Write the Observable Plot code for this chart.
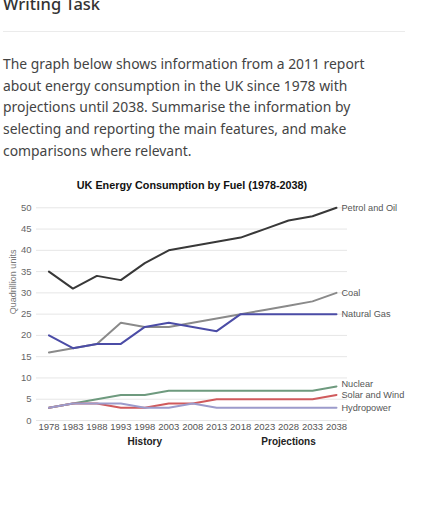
<!DOCTYPE html>
<html>
<head>
<meta charset="utf-8">
<script src="https://cdn.jsdelivr.net/npm/d3@7"></script>
<script src="https://cdn.jsdelivr.net/npm/@observablehq/plot@0.6"></script>
<style>
  html, body { margin: 0; padding: 0; background: #fff; width: 432px; height: 512px; overflow: hidden; }
  #heading { position: absolute; left: 3px; top: -8px; font: 500 16.5px "Noto Sans", sans-serif; color: #333; margin: 0; }
  #rule { position: absolute; left: 3px; top: 31px; width: 402px; height: 0; border-top: 1px solid #ebebeb; }
  #prompt { position: absolute; left: 3px; top: 53px; font: 13.9px "Noto Sans", sans-serif; line-height: 21.7px; color: #444; white-space: nowrap; margin: 0; }
  #title { position: absolute; left: 0; width: 384px; top: 179px; text-align: center; font: bold 10.8px "Liberation Sans", Arial, sans-serif; color: #111; }
  #chart { position: absolute; left: 0; top: 195px; }
</style>
</head>
<body>
<h2 id="heading">Writing Task</h2>
<div id="rule"></div>
<p id="prompt">The graph below shows information from a 2011 report<br>about energy consumption in the UK since 1978 with<br>projections until 2038. Summarise the information by<br>selecting and reporting the main features, and make<br>comparisons where relevant.</p>
<div id="title">UK Energy Consumption by Fuel (1978-2038)</div>
<div id="chart"></div>
<script>
const years = [1978, 1983, 1988, 1993, 1998, 2003, 2008, 2013, 2018, 2023, 2028, 2033, 2038];
const petrolOil    = [35, 31, 34, 33, 37, 40, 41, 42, 43, 45, 47, 48, 50];
const coal         = [16, 17, 18, 23, 22, 22, 23, 24, 25, 26, 27, 28, 30];
const naturalGas   = [20, 17, 18, 18, 22, 23, 22, 21, 25, 25, 25, 25, 25];
const nuclear      = [3, 4, 5, 6, 6, 7, 7, 7, 7, 7, 7, 7, 8];
const solarWind    = [3, 4, 4, 3, 3, 4, 4, 5, 5, 5, 5, 5, 6];
const hydropower   = [3, 4, 4, 4, 3, 3, 4, 3, 3, 3, 3, 3, 3];
const seriesNames  = ["Petrol and Oil", "Coal", "Natural Gas", "Nuclear", "Solar and Wind", "Hydropower"];
const seriesValues = [petrolOil, coal, naturalGas, nuclear, solarWind, hydropower];
const seriesColors = ["#383838", "#8a8a8a", "#4b4ca6", "#6e9a7e", "#d05a5c", "#9c9bcb"];
const labelShift   = [0, 0, 0, -2.5, 0, 0];
const yTicks = [0, 5, 10, 15, 20, 25, 30, 35, 40, 45, 50];
const periods = [
  {name: "History", start: 1978, end: 2018},
  {name: "Projections", start: 2018, end: 2038}
];

const rows = seriesNames.flatMap((name, i) =>
  years.map((year, j) => ({fuel: name, year, value: seriesValues[i][j]})));
const ends = seriesNames.map((name, i) => ({fuel: name, year: years[years.length - 1], value: seriesValues[i][years.length - 1], shift: labelShift[i]}));
const periodRows = periods.map(p => ({name: p.name, mid: (p.start + p.end) / 2}));

const chart = Plot.plot({
  width: 432,
  height: 260,
  marginLeft: 36,
  marginRight: 85,
  marginTop: 12.3,
  marginBottom: 35,
  style: {fontFamily: "'Liberation Sans', Arial, sans-serif", fontSize: "9.5px", color: "#555", background: "white"},
  x: {domain: [1975.4, 2040.3], label: null},
  y: {domain: [0, 50], label: null},
  color: {domain: seriesNames, range: seriesColors},
  marks: [
    Plot.gridY(yTicks, {stroke: "#e6e6e6", strokeOpacity: 1, strokeWidth: 1}),
    Plot.axisY({ticks: yTicks, tickSize: 0, tickPadding: 5, label: null, fill: "#666", fontSize: 9.5}),
    Plot.axisX({ticks: years, tickFormat: d => String(d), tickSize: 0, tickPadding: 3, label: null, fill: "#555", fontSize: 9.5}),
    Plot.line(rows, {x: "year", y: "value", z: "fuel", stroke: "fuel", strokeWidth: 2, strokeLinejoin: "miter"}),
    ...ends.map(e => Plot.text([e], {x: "year", y: "value", text: "fuel", textAnchor: "start", dx: 5, dy: e.shift, fill: "#555", fontSize: 9.2})),
    Plot.text(periodRows, {x: "mid", y: () => 0, text: "name", dy: 21, fontWeight: "bold", fontSize: 10, fill: "#222"}),
    Plot.text(["Quadrillion units"], {frameAnchor: "left", text: d => d, rotate: -90, dx: -23, fill: "#777", fontSize: 9})
  ]
});
document.getElementById("chart").appendChild(chart);
</script>
</body>
</html>
